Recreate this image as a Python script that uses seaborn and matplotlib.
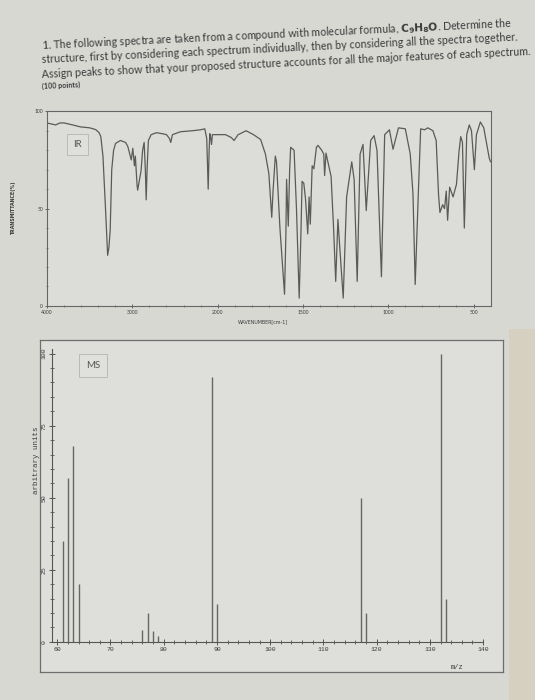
import numpy as np
import pandas as pd
import matplotlib
matplotlib.use("Agg")
import matplotlib.pyplot as plt
import seaborn as sns
from matplotlib.ticker import FixedLocator, MultipleLocator
from matplotlib.patches import Rectangle

# IR spectrum (wavenumber in cm-1, %T)
ir_wavenumber = [4000, 3950, 3900, 3850, 3800, 3700, 3610, 3500, 3430, 3390, 3370, 3345,
                 3315, 3290, 3275, 3260, 3242, 3220, 3197, 3140, 3080, 3054, 3013, 2995,
                 2976, 2965, 2945, 2938, 2920, 2898, 2880, 2862, 2848, 2838, 2826, 2812,
                 2780, 2717, 2650, 2600, 2565, 2550, 2530, 2436, 2300, 2200, 2151, 2128,
                 2111, 2100, 2092, 2080, 2072, 2062, 2000, 1954, 1920, 1904, 1880, 1833,
                 1790, 1748, 1720, 1700, 1683, 1675, 1662, 1655, 1635, 1608, 1600, 1596,
                 1586, 1578, 1572, 1552, 1538, 1522, 1512, 1505, 1495, 1485, 1472, 1464,
                 1457, 1446, 1436, 1421, 1412, 1390, 1378, 1373, 1365, 1335, 1320, 1308,
                 1295, 1288, 1264, 1244, 1214, 1200, 1182, 1165, 1148, 1129, 1103, 1083,
                 1066, 1040, 1021, 993, 972, 940, 900, 871, 855, 842, 824, 810, 787, 768,
                 738, 719, 705, 697, 681, 670, 660, 652, 640, 620, 600, 585, 575, 565,
                 554, 540, 525, 512, 495, 483, 460, 440, 408, 400]
ir_transmittance = [94, 93.5, 93, 94, 94, 93, 92, 91.5, 90.6, 89, 87, 77,
                    50, 26, 30, 39, 70, 80, 83.5, 85, 84, 82, 75, 81,
                    72, 77, 62, 59.5, 64, 69.5, 80, 84, 70, 54.5, 72, 85,
                    88, 89, 88.5, 88, 86, 84, 88, 89.5, 90, 90.5, 91, 86,
                    60, 80, 88.5, 86, 83, 88, 88, 88, 86.5, 85, 88, 90,
                    88, 85.5, 78, 68, 45.5, 59.5, 77, 74, 40, 6, 37, 65,
                    41, 70, 81.5, 80, 50, 4, 37, 64, 63, 55, 37, 56,
                    42, 72, 70.5, 81.5, 82.5, 80, 78, 67, 78.5, 66.5, 39, 12.6,
                    44.5, 35, 4, 56, 74, 65, 12.6, 78, 83, 49, 85, 87.5,
                    80, 15, 88, 90.5, 80.5, 91.5, 91, 78, 57.5, 11, 57, 91, 90.5, 91.5,
                    90, 85, 57, 48, 52, 50, 59, 44, 61, 56, 62.5, 79.5, 87, 84,
                    40, 88, 93, 90, 70, 88, 94.5, 91.5, 76, 74]

ir_major = [4000, 3000, 2000, 1500, 1000, 500]
ir_tick_labels = ["4000", "3000", "2000", "1500", "1000", "500"]

# mass spectrum sticks
ms_mz = [61, 62, 63, 64, 76, 77, 78, 79, 89, 90, 117, 118, 132, 133]
ms_intensity = [35, 57, 68, 20, 4, 10, 3.7, 2, 92, 13, 50, 10, 100, 15]
ms_ticks = [60, 70, 80, 90, 100, 110, 120, 130, 140]

question = [
    "1. The following spectra are taken from a compound with molecular formula, $\\mathbf{C_9H_8O}$. Determine the",
    "structure, first by considering each spectrum individually, then by considering all the spectra together.",
    "Assign peaks to show that your proposed structure accounts for all the major features of each spectrum.",
]

paper = "#d8d8d3"
ink = "#3a3a3a"
trace = "#5a5a5a"

sns.set_style("white")
plt.rcParams["font.family"] = ["Lato", "DejaVu Sans"]

fig = plt.figure(figsize=(5.35, 7.0), dpi=100, facecolor=paper)
fig.patches.append(Rectangle((0.952, 0), 0.048, 0.53, transform=fig.transFigure,
                             facecolor="#d6d0c1", edgecolor="none", zorder=-5))

# question text, page is a bit tilted in the photo
y0 = 1 - 49 / 700
for i, line in enumerate(question):
    fig.text(0.079, y0 - i * 0.0205, line, fontsize=7.7, color=ink, rotation=2.7,
             rotation_mode="anchor", ha="left", va="baseline")
fig.text(0.079, 1 - 89 / 700, "(100 points)", fontsize=5.2, color=ink, fontweight="bold",
         rotation=2.7, rotation_mode="anchor", ha="left", va="baseline")

# ---- IR ----
ir_df = pd.DataFrame({"wavenumber": ir_wavenumber, "transmittance": ir_transmittance})
ax_ir = fig.add_axes([0.088, 0.563, 0.829, 0.278])
ax_ir.set_facecolor("#dcdcd8")
sns.lineplot(data=ir_df, x="wavenumber", y="transmittance", ax=ax_ir,
             color=trace, lw=0.9, estimator=None, sort=False)


def fwd(w):
    w = np.asarray(w, dtype=float)
    return np.where(w <= 2000, (w - 400) / 1000, 1.6 + (w - 2000) / 2000)


def inv(g):
    g = np.asarray(g, dtype=float)
    return np.where(g <= 1.6, g * 1000 + 400, 2000 + (g - 1.6) * 2000)


ax_ir.set_xscale("function", functions=(fwd, inv))
ax_ir.set_xlim(4000, 400)
ax_ir.set_ylim(0, 100)
ax_ir.xaxis.set_major_locator(FixedLocator(ir_major))
ax_ir.set_xticklabels(ir_tick_labels)
minor = list(range(3800, 2000, -200)) + [w for w in range(1900, 400, -100) if w not in ir_major]
ax_ir.xaxis.set_minor_locator(FixedLocator(minor))
ax_ir.set_yticks([0, 50, 100])
ax_ir.set_yticklabels(["0", "50", "100"])
ax_ir.yaxis.set_minor_locator(MultipleLocator(10))
ax_ir.tick_params(which="both", direction="inout", colors="#555", labelsize=3.6,
                  labelcolor=ink, pad=1.5, bottom=True, left=True)
ax_ir.tick_params(which="major", length=3, width=0.6)
ax_ir.tick_params(which="minor", length=2, width=0.5)
for s in ax_ir.spines.values():
    s.set_color("#666")
    s.set_linewidth(0.8)
ax_ir.set_xlabel("")
ax_ir.set_ylabel("")
ax_ir.text(0.487, -0.08, "WAVENUMBER[cm-1]", transform=ax_ir.transAxes, fontsize=3.4,
           color=ink, ha="center", va="center", family="DejaVu Sans")
ax_ir.text(-0.075, 0.5, "TRANSMITTANCE(%)", transform=ax_ir.transAxes, fontsize=3.4,
           color=ink, rotation=90, ha="center", va="center", family="DejaVu Sans",
           fontweight="bold")
ax_ir.text(0.069, 0.83, "IR", transform=ax_ir.transAxes, fontsize=7, color="#555",
           ha="center", va="center",
           bbox=dict(boxstyle="square,pad=0.6", fc="#dfdfdb", ec="#b9b9b5", lw=0.7))

# ---- MS ----
ax_frame = fig.add_axes([0.075, 0.04, 0.865, 0.474])
ax_frame.set_facecolor("#dededa")
ax_frame.set_xticks([])
ax_frame.set_yticks([])
for s in ax_frame.spines.values():
    s.set_color("#6e6e6e")
    s.set_linewidth(0.9)

ax_ms = fig.add_axes([0.097, 0.083, 0.806, 0.418])
ax_ms.set_facecolor("none")
ax_ms.vlines(ms_mz, 0, ms_intensity, color="#666", lw=1.0)
ax_ms.set_xlim(59, 140)
ax_ms.set_ylim(0, 101.5)
ax_ms.set_xticks(ms_ticks)
ax_ms.xaxis.set_minor_locator(MultipleLocator(2))
ax_ms.set_yticks([0, 25, 50, 75, 100])
ax_ms.yaxis.set_minor_locator(MultipleLocator(5))
ax_ms.tick_params(which="both", direction="inout", colors="#555", labelcolor=ink,
                  labelsize=4.6, pad=2, bottom=True, left=True)
ax_ms.tick_params(which="major", length=4, width=0.7)
ax_ms.tick_params(which="minor", length=2.5, width=0.6)
for lab in ax_ms.get_xticklabels() + ax_ms.get_yticklabels():
    lab.set_family("Liberation Mono")
for lab in ax_ms.get_yticklabels():
    lab.set_rotation(90)
    lab.set_va("center")
sns.despine(ax=ax_ms)
ax_ms.spines["left"].set_color("#555")
ax_ms.spines["bottom"].set_color("#555")
ax_ms.spines["left"].set_linewidth(0.8)
ax_ms.spines["bottom"].set_linewidth(0.8)
ax_ms.text(0.94, -0.088, "m/z", transform=ax_ms.transAxes, fontsize=5, color=ink,
           ha="center", va="center", family="Liberation Mono")
ax_ms.text(-0.036, 0.62, "arbitrary units", transform=ax_ms.transAxes, fontsize=5.4,
           color=ink, rotation=90, ha="center", va="center", family="Liberation Mono")
ax_ms.text(0.095, 0.945, "MS", transform=ax_ms.transAxes, fontsize=7, color="#555",
           ha="center", va="center",
           bbox=dict(boxstyle="square,pad=0.7", fc="#e0e0dc", ec="#b9b9b5", lw=0.7))

fig.savefig("out.png", dpi=100, facecolor=paper)
